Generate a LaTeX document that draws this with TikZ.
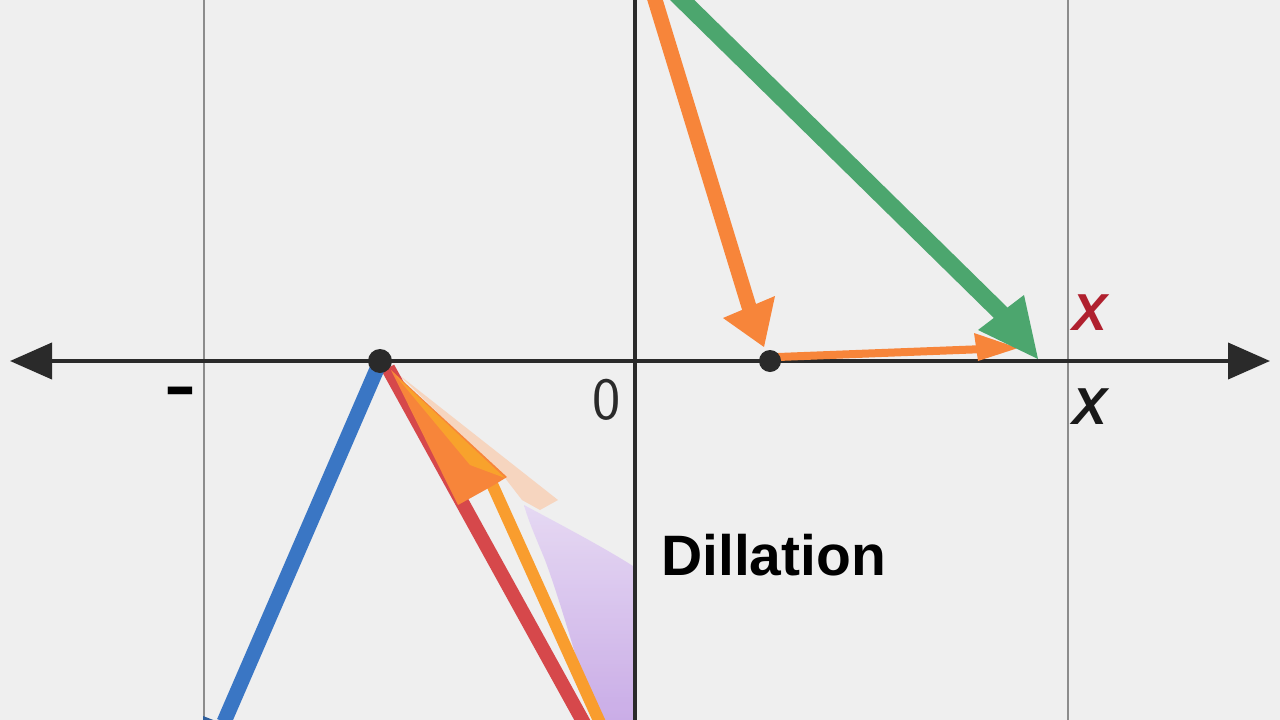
\documentclass[tikz,border=0pt]{standalone}
\usepackage{fontspec}
\setmainfont{Liberation Sans}
\usetikzlibrary{arrows.meta}
\definecolor{bg}{HTML}{EFEFEF}
\definecolor{gridgray}{HTML}{8C8C8C}
\definecolor{axisdark}{HTML}{2A2A2A}
\definecolor{vgreen}{HTML}{4CA66E}
\definecolor{vorange}{HTML}{F7853A}
\definecolor{vblue}{HTML}{3A76C4}
\definecolor{vred}{HTML}{D6484B}
\definecolor{vpurple}{HTML}{C4A2E6}
\definecolor{vpeach}{HTML}{F8CFB4}
\definecolor{xred}{HTML}{B0202E}
\begin{document}
\begin{tikzpicture}[x=1pt,y=-1pt,
  gridline/.style={draw=gridgray, line width=2.4pt},
  yaxisline/.style={draw=axisdark, line width=3.6pt},
  xaxisline/.style={draw=axisdark, line width=4pt,
    {Triangle[length=42pt,width=36pt]}-{Triangle[length=42pt,width=36pt]}},
  shaft/.style={draw=#1, line cap=butt},
  pointdot/.style={circle, fill=axisdark, inner sep=0pt, minimum size=#1},
  xlbl/.style={inner sep=0pt, font=\fontsize{52}{60}\selectfont\bfseries\itshape}
]
\useasboundingbox (0,0) rectangle (1280,720);
\clip (0,0) rectangle (1280,720);
\fill[bg] (0,0) rectangle (1280,720);

% grid lines and axes
\coordinate (g1t) at (204,0);  \coordinate (g1b) at (204,720);
\coordinate (g2t) at (1068,0); \coordinate (g2b) at (1068,720);
\coordinate (yt) at (635,0);   \coordinate (yb) at (635,720);
\coordinate (xl) at (10,361);  \coordinate (xr) at (1270,361);
\draw[gridline] (g1t) -- (g1b);
\draw[gridline] (g2t) -- (g2b);

% purple fading region
\shade[top color=vpurple!45, bottom color=vpurple, opacity=0.85]
  (524,505) .. controls (548,518) and (600,545) .. (633,566)
  -- (633,720) -- (594,720)
  .. controls (580,670) and (560,600) .. (545,560)
  .. controls (536,538) and (528,520) .. cycle;

\draw[yaxisline] (yt) -- (yb);
\draw[xaxisline] (xl) -- (xr);

% faded ghost arrowhead
\fill[vpeach, opacity=0.8] (398,374) -- (558,500) -- (540,510) -- (522,500) -- (505,478) -- cycle;

% red shaft
\coordinate (rtop) at (388,368); \coordinate (rbot) at (585,725);
\draw[shaft=vred, line width=14pt] (rtop) -- (rbot);

% orange dilation arrow
\coordinate (obot) at (601,725); \coordinate (obase) at (492,484);
\draw[shaft=vorange!80!yellow, line width=12pt] (obot) -- (obase);
\fill[vorange] (391,370) -- (507,477) -- (494,485) -- (458,505) -- cycle;
\fill[vorange!60!yellow, opacity=0.6] (396,376) -- (505,478) -- (470,465) -- cycle;

% blue arrow
\coordinate (btop) at (380,362); \coordinate (bbot) at (224,722);
\draw[shaft=vblue, line width=15pt] (btop) -- (bbot);
\fill[vblue!80!black] (205,770) -- (203,716) -- (247,733) -- cycle;

% orange arrow top
\coordinate (o1top) at (652,-10); \coordinate (o1base) at (750,310);
\draw[shaft=vorange, line width=15pt] (o1top) -- (o1base);
\fill[vorange] (764,347) -- (723,318) -- (775,296) -- cycle;

% orange arrow along axis
\coordinate (o2start) at (778,357); \coordinate (o2base) at (985,349);
\draw[shaft=vorange, line width=8pt] (o2start) -- (o2base);
\fill[vorange] (1018,348) -- (974,333) -- (978,361) -- cycle;

% green arrow
\coordinate (gtop) at (672,-10); \coordinate (gbase) at (1004,316);
\draw[shaft=vgreen, line width=17pt] (gtop) -- (gbase);
\fill[vgreen] (1038,359) -- (1024,295) -- (978,330) -- cycle;

% points
\node[pointdot=24pt] (p1) at (380,361) {};
\node[pointdot=22pt] (p2) at (770,361) {};

% labels
\node[inner sep=0pt, font=\fontsize{64}{64}\selectfont\bfseries] (minus) at (180,397) {\scalebox{1.5}[1]{-}};
\node[inner sep=0pt, font=\fontsize{60}{60}\sffamily, text=axisdark] (zero) at (607,400) {0};
\node[xlbl, text=black!90] (xb) at (1090,407) {X};
\node[xlbl, text=xred] (xr2) at (1090,313) {X};
\node[inner sep=0pt, anchor=base west, font=\fontsize{57}{60}\selectfont\bfseries] (dil) at (661,575) {Dillation};
\end{tikzpicture}
\end{document}
